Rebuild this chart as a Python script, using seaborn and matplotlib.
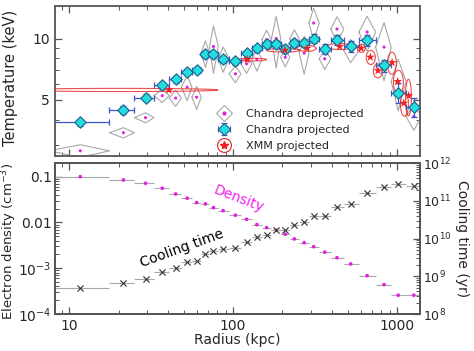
import numpy as np
import matplotlib
matplotlib.use("Agg")
import matplotlib.pyplot as plt
import seaborn as sns
from matplotlib.lines import Line2D
from matplotlib.ticker import FixedLocator, FixedFormatter, NullFormatter, LogLocator

# Chandra annuli (kpc) and bin edges
radius = [11.68, 21.41, 29.21, 36.96, 44.59, 52.42, 59.93, 67.76, 75.86, 86.87,
          103.2, 120.8, 139.7, 160.1, 183.1, 207.9, 236.3, 271.4, 310.1, 362.3,
          430.3, 521.3, 657.0, 833.7, 1017.0, 1266.0]
bin_edges = [7.54, 17.6, 25.0, 32.9, 40.7, 48.4, 56.1, 63.8, 71.7, 81.2, 94.6,
             111.6, 130.0, 149.7, 171.4, 195.2, 221.8, 253.2, 290.3, 335.3, 394.9,
             473.6, 585.3, 740.6, 921.5, 1136.0, 1411.0]

# Chandra temperatures (keV)
t_proj = [3.88, 4.45, 5.13, 5.91, 6.33, 6.87, 7.03, 8.40, 8.40, 7.94, 7.76, 8.50, 8.98,
          9.45, 9.45, 8.90, 9.52, 9.52, 10.02, 8.91, 9.83, 9.18, 9.83, 7.40, 5.44, 4.63]
t_proj_err = [0.15, 0.2, 0.2, 0.25, 0.25, 0.25, 0.25, 0.35, 0.35, 0.3, 0.3, 0.35, 0.35,
              0.4, 0.4, 0.4, 0.45, 0.45, 0.5, 0.5, 0.55, 0.55, 0.6, 0.5, 0.6, 0.5]
t_deproj = [2.81, 3.45, 4.09, 5.25, 5.11, 5.78, 5.16, 8.50, 9.16, 7.97, 6.72, 7.53, 7.92,
            9.89, 10.03, 8.10, 9.97, 8.50, 11.95, 7.97, 11.17, 8.76, 10.79, 9.10, 6.17, 4.14]
t_deproj_err = [0.2, 0.2, 0.23, 0.39, 0.46, 0.82, 0.67, 1.26, 2.4, 1.13, 0.63, 0.77, 0.99,
                1.12, 2.85, 0.83, 1.1, 1.8, 2.17, 0.9, 1.65, 1.15, 2.1, 2.9, 1.75, 0.6]

# XMM projected temperatures
xmm_radius = [40.6, 121.8, 207.3, 282.7, 447.0, 605.0, 687.0, 766.0, 933.0, 1010.0, 1099.0, 1179.0]
xmm_lo = [5.0, 106.9, 160.0, 245.5, 374.8, 572.0, 649.0, 717.0, 874.0, 950.6, 1049.0, 1126.0]
xmm_hi = [80.6, 160.1, 256.0, 321.0, 533.0, 640.0, 737.5, 814.0, 991.5, 1094.0, 1174.0, 1225.0]
xmm_t = [5.60, 7.90, 8.78, 8.98, 9.16, 8.98, 8.12, 6.97, 7.64, 6.16, 4.82, 5.25]
xmm_t_err = [0.1, 0.12, 0.18, 0.3, 0.31, 0.41, 0.65, 0.55, 0.95, 0.84, 0.66, 1.07]

# electron density (cm^-3) and cooling time (yr)
density = [0.1, 0.0847, 0.0718, 0.0558, 0.0419, 0.0338, 0.0271, 0.0254, 0.0210, 0.0181,
           0.01437, 0.01175, 0.00895, 0.00770, 0.00676, 0.00553, 0.00436, 0.00362,
           0.00296, 0.00224, 0.00170, 0.00124, 0.000689, 0.000438, 0.000257, 0.000257]
cooling_time = [4.80e8, 6.52e8, 8.48e8, 1.30e9, 1.63e9, 2.44e9, 2.55e9, 3.83e9, 4.69e9,
                5.20e9, 5.53e9, 7.98e9, 1.08e10, 1.27e10, 1.69e10, 1.69e10, 2.25e10,
                2.81e10, 4.05e10, 4.05e10, 7.02e10, 8.13e10, 1.62e11, 2.34e11, 2.86e11, 2.48e11]

sns.set_style("ticks")
plt.rcParams['font.family'] = ['DejaVu Sans']
plt.rcParams['font.size'] = 10

CYAN = '#22dede'
BLUE = '#3f55d0'
MAG = '#e020e0'
GRAY = '#a8a8a8'
RED = '#ee2020'
FRAME = '#555555'

r = np.array(radius)
lo = np.array(bin_edges[:-1])
hi = np.array(bin_edges[1:])
xerr = [r - lo, hi - r]

fig = plt.figure(figsize=(4.74, 3.51), dpi=100)
ax1 = fig.add_axes([0.115, 0.5556, 0.772, 0.4274])
ax2 = fig.add_axes([0.115, 0.1054, 0.772, 0.4294])

for ax in (ax1, ax2):
    ax.set_xscale('log')
    ax.set_yscale('log')
    ax.set_xlim(8.13, 1390)

ax1.set_ylim(2.65, 14.5)
ax2.set_ylim(1e-4, 0.196)

# --- top panel: temperature ---
# deprojected: diamond-shaped error regions
for i in range(len(r)):
    T, e = t_deproj[i], t_deproj_err[i]
    ax1.plot([lo[i], r[i], hi[i], r[i], lo[i]], [T, T + e, T, T - e, T],
             color=GRAY, lw=0.8, zorder=2)
sns.scatterplot(x=radius, y=t_deproj, ax=ax1, marker='o', s=5, color=MAG,
                edgecolor='none', zorder=3)

# XMM: ellipses
tt = np.linspace(0, 2 * np.pi, 80)
for i in range(len(xmm_radius)):
    lx0, lx1 = np.log10(xmm_lo[i]), np.log10(xmm_hi[i])
    ly0 = np.log10(xmm_t[i] - xmm_t_err[i])
    ly1 = np.log10(xmm_t[i] + xmm_t_err[i])
    ex = 10 ** ((lx0 + lx1) / 2 + (lx1 - lx0) / 2 * np.cos(tt))
    ey = 10 ** ((ly0 + ly1) / 2 + (ly1 - ly0) / 2 * np.sin(tt))
    ax1.plot(ex, ey, color=RED, lw=0.8, alpha=0.8, zorder=4)

# Chandra projected
cont = ax1.errorbar(radius, t_proj, xerr=xerr, yerr=t_proj_err, fmt='none',
                    ecolor=BLUE, elinewidth=0.9, capsize=2, capthick=0.9, zorder=5)
sns.scatterplot(x=radius, y=t_proj, ax=ax1, marker='D', s=34, color=CYAN,
                edgecolor='#1e5f8a', linewidth=0.8, zorder=6)
sns.scatterplot(x=xmm_radius, y=xmm_t, ax=ax1, marker='*', s=45, color=RED,
                edgecolor='none', zorder=7)

ax1.yaxis.set_major_locator(FixedLocator([5, 10]))
ax1.yaxis.set_major_formatter(FixedFormatter(['5', '10']))
ax1.yaxis.set_minor_locator(LogLocator(subs=range(2, 10)))
ax1.yaxis.set_minor_formatter(NullFormatter())
ax1.xaxis.set_major_formatter(NullFormatter())
ax1.xaxis.set_minor_formatter(NullFormatter())
ax1.set_xlabel('')
ax1.set_ylabel('Temperature (keV)', fontsize=10.5)
ax1.yaxis.set_label_coords(-0.1, 0.52)

h_dep = (Line2D([], [], marker='D', ls='none', mfc='none', mec=GRAY, ms=8, mew=0.8),
         Line2D([], [], marker='o', ls='none', color=MAG, ms=2))
h_proj = (cont, Line2D([], [], marker='D', ls='none', mfc=CYAN, mec='#1e5f8a', ms=6, mew=0.8))
h_xmm = (Line2D([], [], marker='o', ls='none', mfc='none', mec=RED, ms=10, mew=0.8),
         Line2D([], [], marker='*', ls='none', color=RED, ms=6))
ax1.legend([h_dep, h_proj, h_xmm], ['Chandra deprojected', 'Chandra projected', 'XMM projected'],
           loc='upper left', bbox_to_anchor=(0.455, 0.69), bbox_transform=fig.transFigure,
           frameon=False, fontsize=8, handlelength=1.5, handletextpad=1.2,
           labelspacing=0.55, borderpad=0, borderaxespad=0)

# --- bottom panel: density and cooling time ---
ax2.errorbar(radius, density, xerr=xerr, fmt='none', ecolor=GRAY, elinewidth=0.8, zorder=2)
sns.scatterplot(x=radius, y=density, ax=ax2, marker='o', s=7, color=MAG,
                edgecolor='none', zorder=3)
ax2.yaxis.set_major_locator(FixedLocator([1e-4, 1e-3, 1e-2, 0.1]))
ax2.yaxis.set_major_formatter(FixedFormatter(['$10^{-4}$', '$10^{-3}$', '0.01', '0.1']))
ax2.yaxis.set_minor_locator(LogLocator(subs=range(2, 10)))
ax2.yaxis.set_minor_formatter(NullFormatter())
ax2.xaxis.set_major_locator(FixedLocator([10, 100, 1000]))
ax2.xaxis.set_major_formatter(FixedFormatter(['10', '100', '1000']))
ax2.xaxis.set_minor_formatter(NullFormatter())
ax2.set_xlabel('Radius (kpc)', fontsize=10)
ax2.xaxis.set_label_coords(0.5, -0.125)
ax2.set_ylabel('Electron density (cm$^{-3}$)', fontsize=9.5)
ax2.yaxis.set_label_coords(-0.098, 0.48)

ax3 = ax2.twinx()
ax3.set_yscale('log')
ax3.set_ylim(1e8, 1e12)
ax3.errorbar(radius, cooling_time, xerr=xerr, fmt='none', ecolor=GRAY, elinewidth=0.8, zorder=2)
sns.scatterplot(x=radius, y=cooling_time, ax=ax3, marker='x', s=20, color='#333333',
                linewidth=0.8, zorder=3)
ax3.yaxis.set_major_locator(LogLocator(numticks=10))
ax3.yaxis.set_minor_locator(LogLocator(subs=range(2, 10), numticks=20))
ax3.yaxis.set_minor_formatter(NullFormatter())
ax3.set_ylabel('Cooling time (yr)', fontsize=10, rotation=270, va='bottom')
ax3.yaxis.set_label_coords(1.094, 0.5)

ax2.text(108, 0.0326, 'Density', color='#ee22ee', fontsize=10, rotation=-21,
         ha='center', va='center')
ax2.text(48.5, 0.00277, 'Cooling time', color='black', fontsize=10, rotation=20,
         ha='center', va='center')

for ax in (ax1, ax2, ax3):
    for sp in ax.spines.values():
        sp.set_color(FRAME)
        sp.set_linewidth(1.3)
    ax.tick_params(which='both', direction='in', color=FRAME, labelsize=10)
    ax.tick_params(which='major', length=5, width=0.9)
    ax.tick_params(which='minor', length=3, width=0.7)
ax1.tick_params(which='both', top=True, right=True)
ax2.tick_params(which='both', top=True, right=False)
ax2.tick_params(axis='y', pad=2)
ax3.tick_params(which='both', right=True, left=False, labelsize=9, pad=2)

fig.savefig('out.png', dpi=100)
